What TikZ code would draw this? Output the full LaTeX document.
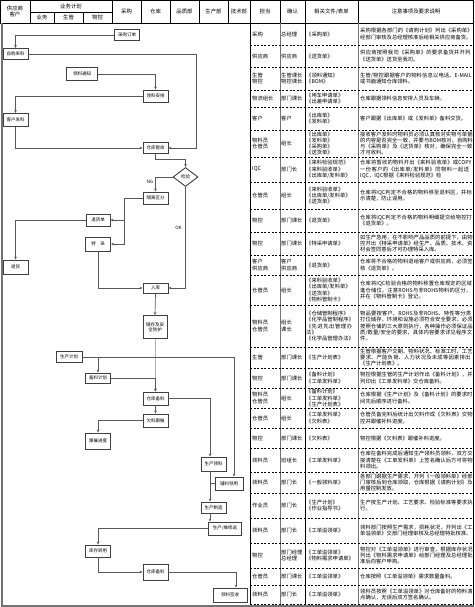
\documentclass[tikz,border=0pt]{standalone}
\usepackage{fontspec}
\setmainfont{Noto Sans CJK SC}
\XeTeXlinebreaklocale "zh"
\XeTeXlinebreakskip = 0pt plus 1pt
\usetikzlibrary{arrows.meta,shapes.geometric}
\tikzset{
  fbox/.style={draw=black!75, line width=0.9pt, fill=white, font=\fontsize{4.5}{5.4}\selectfont, minimum width=25pt, minimum height=11pt, inner sep=1pt, align=center},
  conn/.style={draw=black!65, line width=0.7pt},
  arr/.style={conn, -{Stealth[length=3pt,width=2.6pt]}},
  cell/.style={anchor=west, inner sep=0pt, align=left, font=\fontsize{5.3}{6.3}\selectfont},
  hd/.style={font=\fontsize{5.4}{6.6}\selectfont, align=center, inner sep=0pt},
  lbl/.style={font=\fontsize{4.5}{5}\selectfont, inner sep=0pt},
  rowline/.style={draw=black, line width=0.9pt, dash pattern=on 2pt off 1.6pt},
  frame/.style={draw=black, line width=0.8pt},
  thincol/.style={draw=black!55, line width=0.5pt}
}
\newcommand\trow[7]{%
  \draw[rowline] (250,#3) -- (474,#3);
  \node[cell, text width=27pt] (d#1) at (252,{(#2+#3)/2}) {#4};
  \node[cell, text width=24pt] (c#1) at (281,{(#2+#3)/2}) {#5};
  \node[cell, text width=52pt] (f#1) at (306,{(#2+#3)/2}) {#6};
  \node[cell, text width=113pt] (n#1) at (360,{(#2+#3)/2}) {#7};
}
\begin{document}
\begin{tikzpicture}[x=1pt,y=-1pt]
\useasboundingbox (0,0) rectangle (474,607);
\fill[white] (0,0) rectangle (474,607);
% header
\draw[frame] (0,0.5) -- (474,0.5);
\draw[frame] (0,23) -- (474,23);
\foreach \xx in {30,112,141,170,199,228,250,280,305,358} \draw[frame] (\xx,0) -- (\xx,23);
\draw[frame] (30,12) -- (112,12);
\draw[frame] (54,12) -- (54,23);
\draw[frame] (83,12) -- (83,23);
\node[hd] (h1) at (15,11.5) {供应商\\客户};
\node[hd] (h2) at (71,6) {业务计划};
\node[hd] (h3) at (42,17.5) {业务};
\node[hd] (h4) at (68.5,17.5) {生管};
\node[hd] (h5) at (97.5,17.5) {物控};
\node[hd] (h6) at (126.5,11.5) {采购};
\node[hd] (h7) at (155.5,11.5) {仓库};
\node[hd] (h8) at (184.5,11.5) {品质部};
\node[hd] (h9) at (213.5,11.5) {生产部};
\node[hd] (h10) at (239,11.5) {技术部};
\node[hd] (h11) at (265,11.5) {担当};
\node[hd] (h12) at (292.5,11.5) {确认};
\node[hd] (h13) at (331.5,11.5) {相关文件/表单};
\node[hd] (h14) at (416,11.5) {注意事项及要求说明};
% outer frame
\draw[draw=black!55, line width=2pt] (2,23) -- (2,606);
\draw[draw=black!55, line width=2pt] (1,605.5) -- (474,605.5);
\draw[frame] (250,23) -- (250,605);
\draw[frame] (473.6,0) -- (473.6,605);
\draw[frame] (0.4,0) -- (0.4,23);
\draw[thincol] (280,23) -- (280,605);
\draw[frame] (305,23) -- (305,605);
\draw[thincol] (358,23) -- (358,605);
% table rows
\trow{1}{23}{45}{采购}{总经理}{《采购单》}{采购根据各部门的《请购计划》列出《采购单》经部门审核及总经理核准后给相关供应商备货。}
\trow{2}{45}{67}{供应商}{供应商}{《送货单》}{供应商按照我司《采购单》的要求备货并开列《送货单》送货至我司。}
\trow{3}{67}{90}{生管\\物控}{生管课长\\物控课长}{《领料通知》\\《BOM》}{生管/物控跟据客户的物料信息以电话、E-MAIL或书面通知仓库领料。}
\trow{4}{90}{107}{物流组长}{部门课长}{《用车申请单》\\《出差申请单》}{仓库跟据领料信息安排人员及车辆。}
\trow{5}{107}{130}{客户}{客户}{《出库单》\\《发料单》}{客户跟据《出库单》或《发料单》备料交货。}
\trow{6}{130}{157}{物料员\\仓管员}{组长}{《出库单》\\《发料单》\\《采购单》\\《送货单》}{接收客户发料时物料员必须认真核对实物与单据的内容是否完全一致，并要与BOM核对，自购料与《采购单》及《送货单》核对，确保完全一致才可收料。}
\trow{7}{157}{182}{IQC}{部门长}{《来料检验规范》\\《来料验收单》\\《出库单/发料单》}{仓库将暂收的物料开出《来料验收单》或COPY一份客户的《出库单/发料单》同物料一起送IQC，IQC根据《来料检验规范》检}
\trow{8}{182}{209}{仓管员}{组长}{《来料验收单》\\《出库单/发料单》\\《送货单》}{仓库将IQC判定不合格的物料移至退料区，并标示清楚，防止误用。}
\trow{9}{209}{232}{物控}{部门课长}{《退货单》}{仓库将IQC判定不合格的物料明细提交给物控打《退货单》。}
\trow{10}{232}{255}{物控}{部门课长}{《特采申请单》}{如生产急用，在不影响产品品质的前提下，由物控开出《特采申请单》经生产、品质、技术、资材会签同意后才可办理特采入库。}
\trow{11}{255}{275}{客户\\供应商}{客户\\供应商}{《退货单》}{仓库将不合格的物料退给客户或供应商，必须签核《退货单》。}
\trow{12}{275}{305}{仓管员}{组长}{《来料验收单》\\《出库单/发料单》\\《送货单》\\《物料管制卡》}{仓库将IQC检验合格的物料移置仓库规定的区域進仓储位，注意ROHS与非ROHS物料的区分，并在《物料管制卡》登记。}
\trow{13}{305}{347}{物料员\\仓管员}{组长\\课长}{《仓储管制程序》\\《化学品管制程序》\\《先进先出管理办法》\\《化学品管理办法》}{物品要按客户、ROHS及非ROHS、特性等分类打位储存，环境和设施必须符合安全要求，必须按照仓储的三大原则执行，各种操作必须保证品质/数量/安全的要求，具体内容要求详见程序文件。}
\trow{14}{347}{368}{生管}{部门课长}{《生产计划表》}{生管根据客户交期、物料状况、标准工时、工艺要求、产能负荷、人力状况及未成等因素排出《生产计划表》。}
\trow{15}{368}{388}{物控}{部门课长}{《备料计划》\\《工单发料单》}{物控根据生管的生产计划作出《备料计划》，并列印出《工单发料单》交仓库备料。}
\trow{16}{388}{408}{物料员\\仓管员}{组长}{《备料计划》\\《工单发料单》\\《生产计划表》}{仓库根据《生产计划》及《备料计划》的要求时间先后顺序进行备料。}
\trow{17}{408}{428}{仓管员}{组长}{《工单发料单》\\《欠料表》}{仓管员备完料后统计出欠料作成《欠料表》交物控并跟催补料进度。}
\trow{18}{428}{448}{物控}{部门课长}{《欠料表》}{物控根据《欠料表》跟催补料进度。}
\trow{19}{448}{472}{领料员}{班组长}{《工单发料单》}{仓库在备料完成后通知生产领料员领料，双方交接清楚在《工单发料单》上签名确认后方可将物料领出。}
\trow{20}{472}{493}{领料员}{部门长}{《一般领料单》}{各部门跟据生产需求，开列《一般领料单》经部门审核后到仓库领取，仓库根据《请购计划》及用量控制发放。}
\trow{21}{493}{518}{作业员}{部门长}{《生产计划》\\《作业指导书》}{生产按生产计划、工艺要求、检验标准等要求执行。}
\trow{22}{518}{543}{领料员}{部门长}{《工单溢领单》}{领料部门按照生产需求，损耗状况，开列出《工单溢领单》交部门经理审核及总经理特批核准。}
\trow{23}{543}{568}{物控}{部门经理\\总经理}{《工单溢领单》\\《物料需求申请单》}{物控对《工单溢领单》进行审查，根据库存状况列出《物料需求申请单》给部门经理及总经理批准后向客户申购。}
\trow{24}{568}{585}{仓管员}{部门课长}{《工单溢领单》}{仓库按照《工单溢领单》需求数量备料。}
\trow{25}{585}{604}{领料员}{部门长}{《工单溢领单》}{领料员按照《工单溢领单》对仓库备好的物料清点确认，无误后双方签名确认。}
% flow nodes
\node[fbox] (po) at (127,35) {采购订单};
\node[fbox] (zg) at (15.5,54) {自购来料};
\node[fbox, minimum width=31pt, minimum height=13pt] (ln) at (82,74) {领料通知};
\node[fbox, minimum height=12pt] (la) at (155.5,96) {领料安排};
\node[fbox, minimum height=13pt] (kf) at (15.5,120) {客户发料};
\node[fbox] (zs) at (155.5,148) {仓库暂收};
\node[fbox, diamond, minimum width=25pt, minimum height=19pt, inner sep=0pt] (jy) at (185.5,177) {检验};
\node[fbox, minimum height=12pt] (gl) at (155.5,198) {隔离区分};
\node[fbox, minimum width=24pt, minimum height=12pt] (thd) at (98,220) {退货单};
\node[fbox, minimum height=14pt] (tc) at (98,244) {特\quad 采};
\node[fbox, minimum height=14pt] (th) at (15.5,267) {退货};
\node[fbox, minimum height=10pt] (rk) at (155.5,288) {入库};
\node[fbox, minimum width=24pt, minimum height=23pt] (cc) at (155,327) {储存及安\\全防护};
\node[fbox, minimum width=26pt] (sj) at (69,357) {生产计划};
\node[fbox, minimum height=10pt] (bj) at (98,378) {备料计划};
\node[fbox, minimum height=13pt] (cb) at (155.5,398.5) {仓库备料};
\node[fbox, minimum height=13pt] (ql) at (155.5,420.5) {欠料跟催};
\node[fbox, minimum height=16pt] (gc) at (98,441) {跟催进度};
\node[fbox, minimum height=14pt] (sl) at (213.5,464) {生产领料};
\node[fbox, minimum width=28pt, minimum height=13pt] (fl) at (229,483.5) {辅料领用};
\node[fbox] (zz) at (213.5,507.5) {生产制造};
\node[fbox, minimum width=33pt, minimum height=13pt] (wx) at (225,528.5) {生产/维修返};
\node[fbox, minimum height=12pt] (kz) at (98,551) {库存转用};
\node[fbox, minimum height=16pt] (cb2) at (155.5,572) {仓库备料};
\node[fbox, minimum width=34pt, minimum height=14pt] (qs) at (230,595) {领料签收};
\node[lbl] (ng) at (150,181.5) {NG};
\node[lbl] (ok) at (178.5,228) {OK};
% connectors
\draw[arr] (po.west) -| (zg.north);
\draw[arr] (zg.east) -| ([xshift=27.5pt]zs.east) -- (zs.east);
\draw[arr] (ln.east) -| (la.north);
\draw[arr] (la.west) -| (kf.north);
\draw[arr] (kf.south) |- (zs.west);
\draw[arr] (zs.south) -- ++(0,5) -| (jy.north);
\draw[arr] (jy.west) -| (gl.north);
\draw[conn] (gl.west) -- ++(-18,0) coordinate (g1);
\draw[arr] (g1) |- (thd.east);
\draw[arr] (g1) |- (tc.east);
\draw[arr] (thd.west) -| (th.north);
\draw[arr] (jy.south) |- (rk.east);
\draw[arr] (tc.south) |- (rk.west);
\draw[arr] (rk.south) -- (cc.north);
\draw[arr, draw=black!30] (cc.south) -- (cc.south |- cb.north);
\draw[arr] (sj.east) -| ([xshift=5pt]fl.north);
\draw[arr] (sj.east -| bj.north) -- (bj.north);
\draw[arr] (bj.east) -| (cb.north);
\draw[arr] (cb.east) -| ([xshift=-3.5pt]sl.north);
\draw[arr] (cb.south) -- (ql.north);
\draw[arr] (ql.west) -| (gc.north);
\draw[arr] ([xshift=-3.5pt]sl.south) -- ([xshift=-3.5pt]zz.north);
\draw[conn] (fl.west) -- ++(-5,0);
\draw[arr] ([xshift=-3.5pt]zz.south) -- ([xshift=-3.5pt]zz.south |- wx.north);
\draw[arr] (wx.west) -| (kz.north);
\draw[arr] (kz.south) |- (cb2.west);
\draw[arr] (cb2.east) -| ([xshift=6pt]qs.north);
\end{tikzpicture}
\end{document}
